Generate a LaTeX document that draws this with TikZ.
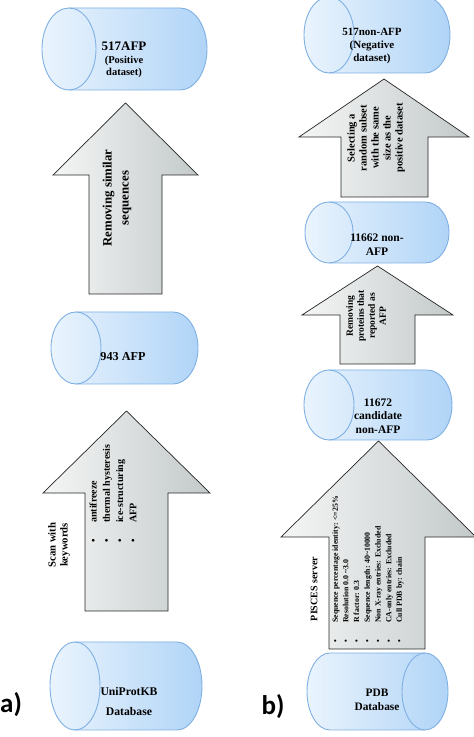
\documentclass[tikz,border=0pt]{standalone}
\usepackage{fontspec}
\setmainfont{Liberation Serif}
\newfontfamily\panelfont{Carlito}
\usetikzlibrary{positioning,calc}

\definecolor{dbleft}{HTML}{EAF4FD}
\definecolor{dbright}{HTML}{B0D4F7}
\definecolor{dbedge}{HTML}{7FB0E3}
\definecolor{arleft}{HTML}{F5F6F6}
\definecolor{arright}{HTML}{C3C9C9}

\tikzset{
  dbfill/.style={left color=dbleft, right color=dbright, draw=dbedge, line width=0.9pt},
  dbline/.style={draw=dbedge, line width=0.9pt},
  arrowfill/.style={left color=arleft, right color=arright, draw=black!85, line width=0.7pt},
  lbl/.style={font=\bfseries, align=center, inner sep=0pt},
  vlbl/.style={lbl, rotate=90},
  panel/.style={font=\panelfont\bfseries\fontsize{27}{30}\selectfont, inner sep=0pt},
}

% cylinder, round face on the left: x1, x2, ybottom, ytop, rx
\newcommand{\dbcylL}[5]{%
  \path[dbfill] ({#1+#5},#4) -- ({#2-#5},#4)
    arc[start angle=90, end angle=-90, x radius=#5pt, y radius={(#4-#3)/2*1pt}]
    -- ({#1+#5},#3)
    arc[start angle=270, end angle=90, x radius=#5pt, y radius={(#4-#3)/2*1pt}] -- cycle;
  \draw[dbline] ({#1+#5},#3)
    arc[start angle=-90, end angle=90, x radius=#5pt, y radius={(#4-#3)/2*1pt}];
}
% cylinder, round face on the right
\newcommand{\dbcylR}[5]{%
  \path[dbfill] ({#1+#5},#4) -- ({#2-#5},#4)
    arc[start angle=90, end angle=-90, x radius=#5pt, y radius={(#4-#3)/2*1pt}]
    -- ({#1+#5},#3)
    arc[start angle=270, end angle=90, x radius=#5pt, y radius={(#4-#3)/2*1pt}] -- cycle;
  \draw[dbline] ({#2-#5},#4)
    arc[start angle=90, end angle=270, x radius=#5pt, y radius={(#4-#3)/2*1pt}];
}
% block arrow pointing up: head left, head right, shaft left, shaft right, apex y, head base y, bottom y
\newcommand{\blockup}[7]{%
  \path[arrowfill] (#1,#6) -- ({(#1+#2)/2},#5) -- (#2,#6) -- (#4,#6)
    -- (#4,#7) -- (#3,#7) -- (#3,#6) -- cycle;
}

\begin{document}
\begin{tikzpicture}[x=1pt,y=1pt]
\useasboundingbox (0,0) rectangle (474,737);

% a) UniProtKB
\dbcylL{42}{207}{647}{729}{27}
\blockup{53}{198}{89}{162}{634}{562}{443}
\dbcylL{51}{198}{353}{425}{25}
\blockup{43}{210}{85}{168}{326}{244}{126}
\dbcylL{50}{202}{7}{95}{25}

\node[lbl, font=\bfseries\fontsize{10.5}{12.5}\selectfont] (afp517) at (124,677)
  {{\fontsize{13}{15}\selectfont 517AFP}\\(Positive\\dataset)};
\node[vlbl, font=\bfseries\fontsize{12.8}{17}\selectfont] (remsim) at (117,539)
  {Removing similar\\sequences};
\node[lbl, font=\bfseries\fontsize{12.2}{14}\selectfont] (afp943) at (123,380) {943 AFP};
\node[vlbl, font=\bfseries\fontsize{10.7}{12}\selectfont] (scan) at (59,192)
  {Scan with\\keywords};
\node[vlbl, align=left, anchor=west, font=\bfseries\fontsize{10}{13.3}\selectfont] (keys) at (113,194)
  {\makebox[20pt][l]{\textbullet}antifreeze\\
   \makebox[20pt][l]{\textbullet}thermal hysteresis\\
   \makebox[20pt][l]{\textbullet}ice-structuring\\
   \makebox[20pt][l]{\textbullet}AFP};
\node[lbl, font=\bfseries\fontsize{11.7}{20}\selectfont] (uniprot) at (129,36)
  {UniProtKB\\Database};
\node[panel, anchor=west] (pa) at (0,32) {a)};

% b) PDB
\dbcylL{304}{450}{664}{740}{25}
\blockup{299}{469}{341}{428}{658}{600}{540}
\dbcylL{305}{449}{474}{535}{24}
\blockup{302}{453}{340}{415}{471}{422}{373}
\dbcylL{304}{452}{297}{367}{25}
\blockup{281}{476}{329}{425}{296}{200}{88}
\dbcylR{307}{448}{7}{84}{23}

\node[lbl, font=\bfseries\fontsize{11}{13}\selectfont] (non517) at (372,691)
  {517non-AFP\\(Negative\\dataset)};
\node[vlbl, font=\bfseries\fontsize{10.5}{12}\selectfont] (select) at (376,599)
  {Selecting a\\random subset\\with the same\\size as the\\positive dataset};
\node[lbl, font=\bfseries\fontsize{11.5}{14}\selectfont] (non11662) at (377,492)
  {11662 non-\\AFP};
\node[vlbl, font=\bfseries\fontsize{9.5}{11}\selectfont] (remprot) at (366,421)
  {Removing\\proteins that\\reported as\\AFP};
\node[lbl, font=\bfseries\fontsize{11.5}{13.5}\selectfont] (cand) at (378,321)
  {11672\\candidate\\non-AFP};
\node[vlbl, font=\bfseries\fontsize{10}{12}\selectfont] (pisces) at (314,148) {PISCES server};
\node[vlbl, align=left, anchor=west, font=\bfseries\fontsize{7.8}{10.7}\selectfont] (params) at (368,94)
  {\makebox[20pt][l]{\textbullet}Sequence percentage identity: <=25\%\\
   \makebox[20pt][l]{\textbullet}Resolution 0.0 \textasciitilde3.0\\
   \makebox[20pt][l]{\textbullet}R factor: 0.3\\
   \makebox[20pt][l]{\textbullet}Sequence length: 40\textasciitilde10000\\
   \makebox[20pt][l]{\textbullet}Non X-ray entries: Excluded\\
   \makebox[20pt][l]{\textbullet}CA-only entries: Excluded\\
   \makebox[20pt][l]{\textbullet}Cull PDB by: chain};
\node[lbl, font=\bfseries\fontsize{11.4}{14}\selectfont] (pdb) at (377,37)
  {PDB\\Database};
\node[panel] (pb) at (273,30) {b)};
\end{tikzpicture}
\end{document}
